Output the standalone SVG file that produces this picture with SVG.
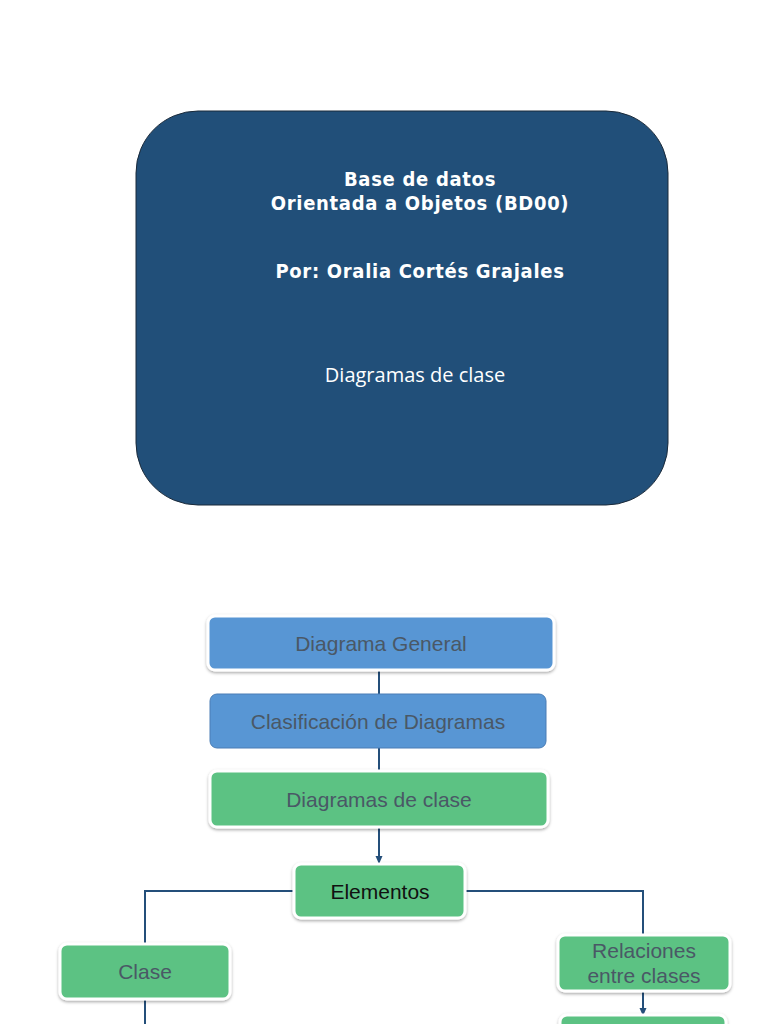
<svg xmlns="http://www.w3.org/2000/svg" width="768" height="1024" viewBox="0 0 768 1024">
<style>
.t{font-family:"Open Sans","Noto Sans",sans-serif;fill:#ffffff;text-anchor:middle}
.b{font-family:"DejaVu Sans Condensed","DejaVu Sans",sans-serif;font-weight:bold;font-size:20px;letter-spacing:0.7px}
.n{font-family:"Liberation Sans",Arial,sans-serif;font-size:21px;text-anchor:middle;fill:#4a5866}
.blue{fill:#5896d4}
.green{fill:#5bc283}
.wb{stroke:#ffffff;stroke-width:3}
.conn{stroke:#244f7a;stroke-width:2;fill:none}
</style>
<defs>
<filter id="sh" x="-10%" y="-20%" width="120%" height="150%">
<feDropShadow dx="0" dy="1.5" stdDeviation="1.5" flood-color="#000" flood-opacity="0.35"/>
</filter>
<marker id="ar" markerWidth="8" markerHeight="8" refX="7" refY="4" orient="auto" markerUnits="userSpaceOnUse">
<path d="M0,0.5 L8,4 L0,7.5 Z" fill="#244f7a"/>
</marker>
</defs>
<rect width="768" height="1024" fill="#ffffff"/>
<g id="title">
<rect x="136" y="111" width="532" height="394" rx="62" ry="62" fill="#214f79" stroke="#1a2a3a" stroke-width="1"/>
<text class="t b" x="420" y="186">Base de datos</text>
<text class="t b" x="420" y="210">Orientada a Objetos (BD00)</text>
<text class="t b" x="420" y="278">Por: Oralia Cortés Grajales</text>
<text class="t" x="415" y="382" font-size="20">Diagramas de clase</text>
</g>
<g id="connectors">
<line class="conn" x1="379" y1="670" x2="379" y2="694"/>
<line class="conn" x1="379" y1="748" x2="379" y2="771"/>
<line class="conn" x1="379" y1="827" x2="379" y2="863" marker-end="url(#ar)"/>
<polyline class="conn" points="294,891 145,891 145,944"/>
<polyline class="conn" points="465,891 643,891 643,935"/>
<line class="conn" x1="145" y1="999" x2="145" y2="1024"/>
<line class="conn" x1="643" y1="991" x2="643" y2="1015" marker-end="url(#ar)"/>
</g>
<g id="diagrama-general">
<rect class="blue wb" x="208" y="616" width="346" height="54" rx="7" filter="url(#sh)"/>
<text class="n" x="381" y="651">Diagrama General</text>
</g>
<g id="clasificacion">
<rect class="blue" x="210" y="694" width="336" height="54" rx="7" stroke="#4a7db5" stroke-width="1"/>
<text class="n" x="378" y="729">Clasificación de Diagramas</text>
</g>
<g id="diagramas-clase">
<rect class="green wb" x="210" y="771" width="338" height="56" rx="7" filter="url(#sh)"/>
<text class="n" x="379" y="807">Diagramas de clase</text>
</g>
<g id="elementos">
<rect class="green wb" x="294" y="864" width="171" height="54" rx="7" filter="url(#sh)"/>
<text class="n" x="380" y="899" style="fill:#111111">Elementos</text>
</g>
<g id="clase">
<rect class="green wb" x="60" y="944" width="170" height="55" rx="7" filter="url(#sh)"/>
<text class="n" x="145" y="979">Clase</text>
</g>
<g id="relaciones">
<rect class="green wb" x="558" y="935" width="172" height="56" rx="7" filter="url(#sh)"/>
<text class="n" x="644" y="958">Relaciones</text>
<text class="n" x="644" y="983">entre clases</text>
</g>
<g id="siguiente">
<rect class="green wb" x="560" y="1015" width="166" height="40" rx="7" filter="url(#sh)"/>
</g>
</svg>
